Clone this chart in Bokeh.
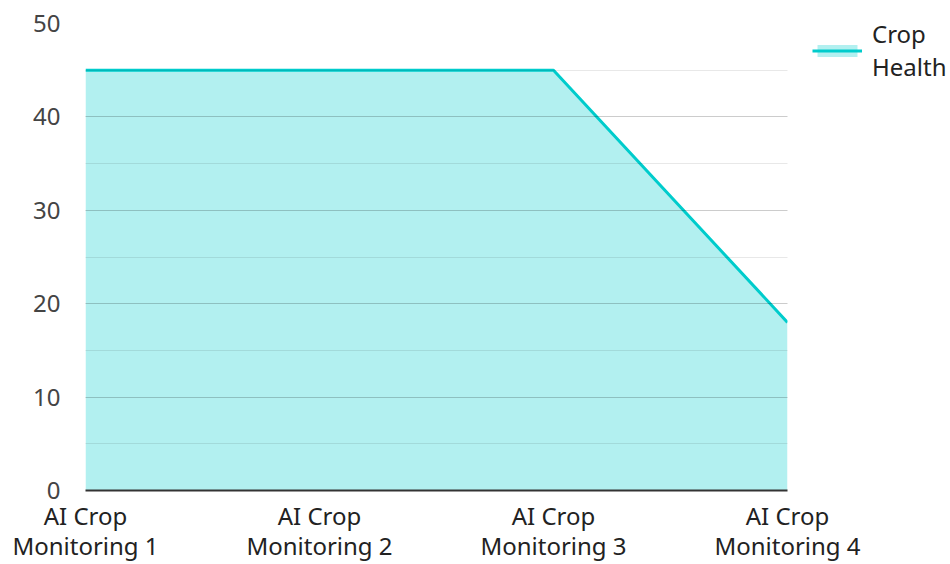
from bokeh.plotting import figure
from bokeh.models import FixedTicker, Legend, LegendItem, Range1d
from bokeh.embed import file_html
from bokeh.resources import INLINE

categories = ["AI Crop\nMonitoring 1", "AI Crop\nMonitoring 2", "AI Crop\nMonitoring 3", "AI Crop\nMonitoring 4"]
crop_health = [45, 45, 45, 18]
series_name = "Crop\nHealth"
y_ticks = [0, 10, 20, 30, 40, 50]
y_minor = [5, 15, 25, 35, 45]

xs = list(range(len(categories)))
FONT = "Noto Sans"

p = figure(frame_width=702, frame_height=467, output_backend="svg", toolbar_location=None,
           x_range=Range1d(0, len(categories) - 1), y_range=Range1d(0, 50),
           min_border_left=85, min_border_right=0, min_border_top=23, min_border_bottom=0)
p.outline_line_color = None
p.background_fill_color = "white"

area = p.varea(x=xs, y1=[0] * len(xs), y2=crop_health, fill_color="#00cccc", fill_alpha=0.3)
line = p.line(x=xs, y=crop_health, line_color="#00cccc", line_width=3)

p.xaxis.ticker = FixedTicker(ticks=xs)
p.xaxis.major_label_overrides = {i: c for i, c in zip(xs, categories)}
p.xaxis.axis_line_color = "#333333"
p.xaxis.axis_line_width = 2
p.xaxis.major_tick_line_color = None
p.xaxis.minor_tick_line_color = None
p.xaxis.major_label_text_font = FONT
p.xaxis.major_label_text_font_size = "24px"
p.xaxis.major_label_text_color = "#222222"
p.xaxis.major_label_text_line_height = 0.92
p.xaxis.major_label_standoff = 2

p.yaxis.ticker = FixedTicker(ticks=y_ticks, minor_ticks=y_minor)
p.yaxis.axis_line_color = None
p.yaxis.major_tick_line_color = None
p.yaxis.minor_tick_line_color = None
p.yaxis.major_label_text_font = FONT
p.yaxis.major_label_text_font_size = "24px"
p.yaxis.major_label_text_color = "#444444"
p.yaxis.major_label_standoff = 19

p.xgrid.grid_line_color = None
p.ygrid.grid_line_color = "#000000"
p.ygrid.grid_line_alpha = 0.2
p.ygrid.minor_grid_line_color = "#000000"
p.ygrid.minor_grid_line_alpha = 0.09
p.ygrid.level = "overlay"

legend = Legend(items=[LegendItem(label=series_name, renderers=[area, line])],
                location=(25, 407), margin=0, padding=0, border_line_color=None,
                background_fill_alpha=0, label_text_font=FONT, label_text_font_size="24px",
                label_text_color="#222222", glyph_width=50, glyph_height=15,
                label_standoff=10, label_height=28, label_text_line_height=0.95)
p.add_layout(legend, "right")

open("out.html", "w").write(file_html(p, INLINE))
